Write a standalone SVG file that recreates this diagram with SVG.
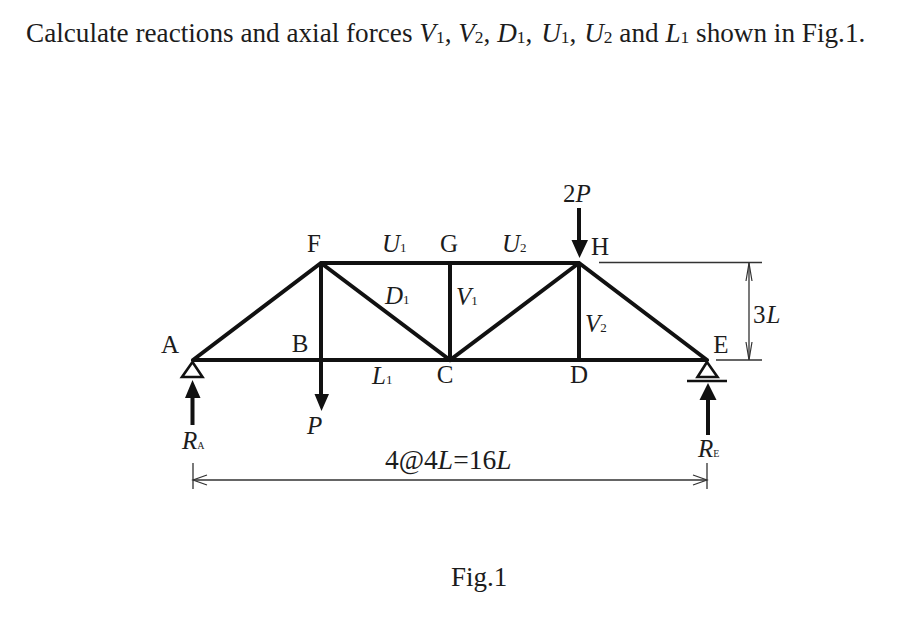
<svg xmlns="http://www.w3.org/2000/svg" width="908" height="632" viewBox="0 0 908 632">
<style>
text{font-family:"Liberation Serif","Times New Roman",serif;fill:#1c1c1c}
.l{font-size:25px;text-anchor:middle}
.m{font-size:25px}
.i{font-style:italic}
.s{font-size:13px;font-style:normal}
.t{font-size:27.2px}
.b{fill:none;stroke:#111;stroke-width:4;stroke-linecap:round}
.f{fill:none;stroke:#111;stroke-width:4}
.d{fill:none;stroke:#333;stroke-width:1.3}
.o{fill:none;stroke:#333;stroke-width:1.2}
.h{fill:#111;stroke:none}
.u{fill:#fff;stroke:#111;stroke-width:2.6}
</style>
<rect width="908" height="632" fill="#fff"/>
<text class="t" x="26" y="42">Calculate reactions and axial forces <tspan class="i">V</tspan><tspan font-size="17.500" dy="1">1</tspan><tspan dy="-1">, </tspan><tspan class="i">V</tspan><tspan font-size="17.500" dy="1">2</tspan><tspan dy="-1">, </tspan><tspan class="i">D</tspan><tspan font-size="17.500" dy="1">1</tspan><tspan dy="-1">, </tspan><tspan class="i" dx="2">U</tspan><tspan font-size="17.500" dy="1">1</tspan><tspan dy="-1">, </tspan><tspan class="i" dx="1">U</tspan><tspan font-size="17.500" dy="1">2</tspan><tspan dy="-1"> and </tspan><tspan class="i">L</tspan><tspan font-size="17.500" dy="1">1</tspan><tspan dy="-1"> shown in Fig.1.</tspan></text>

<g id="connectors">
<path class="b" d="M193 360H707M193 360L321 263H579L707 360M321 263V360M450 263V360M579 263V360M321 263L450 360L579 263"/>
<path class="f" d="M321 360V397M192.500 425V396M579 208V242M708 435V399"/>
<path class="h" d="M314.500 394H329L321.500 411ZM185 398L192.500 380L200.500 398ZM571.500 240H588L579.500 258ZM699.500 400L708 383L716.500 400Z"/>
<path class="d" d="M599 262.500H762M716 360H762M749 263V360M193 463V489M707 463V489M193 480H707"/>
<path class="o" d="M746 281L749 263L752 281M746 342L749 360L752 342M207 475L193 480L207 485M693 475L707 480L693 485"/>
</g>

<g id="node-A"><text class="l" x="170" y="353">A</text><path class="u" d="M192.500 362L182 377H202.500Z"/></g>
<g id="node-B"><text class="l" x="300" y="352">B</text></g>
<g id="node-C"><text class="l" x="445" y="383">C</text></g>
<g id="node-D"><text class="l" x="579" y="383">D</text></g>
<g id="node-E"><text class="l" x="721" y="353">E</text><path class="u" d="M707 362L697.500 377H717.500Z"/><path class="f" style="stroke-width:2.6" d="M687 381H727"/></g>
<g id="node-F"><text class="l" x="314" y="252">F</text></g>
<g id="node-G"><text class="l" x="449" y="252">G</text></g>
<g id="node-H"><text class="l" x="600" y="255">H</text></g>

<g id="labels">
<text class="m i" x="382" y="252">U<tspan class="s">1</tspan></text>
<text class="m i" x="502" y="252">U<tspan class="s">2</tspan></text>
<text class="m i" x="385" y="304">D<tspan class="s">1</tspan></text>
<text class="m i" x="456" y="305">V<tspan class="s">1</tspan></text>
<text class="m i" x="585" y="332">V<tspan class="s">2</tspan></text>
<text class="m i" x="372" y="384">L<tspan class="s">1</tspan></text>
<text class="m i" x="307" y="434">P</text>
<text class="m" x="563" y="202">2<tspan class="i">P</tspan></text>
<text class="m i" x="182" y="449">R<tspan font-size="10" font-style="normal">A</tspan></text>
<text class="m i" x="698" y="457">R<tspan font-size="10" font-style="normal">E</tspan></text>
<text x="385" y="469" style="font-size:27.500px">4@4<tspan class="i">L</tspan>=16<tspan class="i">L</tspan></text>
<text class="m" x="753" y="323">3<tspan class="i" dx="1">L</tspan></text>
<text x="451" y="586" style="font-size:27px">Fig.1</text>
</g>
</svg>
